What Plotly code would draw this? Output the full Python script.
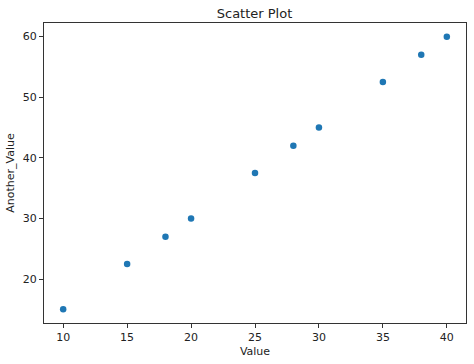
import plotly.graph_objects as go

value = [10, 15, 18, 20, 25, 28, 30, 35, 38, 40]
another_value = [15, 22.5, 27, 30, 37.5, 42, 45, 52.5, 57, 60]
x_ticks = [10, 15, 20, 25, 30, 35, 40]
y_ticks = [20, 30, 40, 50, 60]

fig = go.Figure(go.Scatter(
    x=value, y=another_value, mode="markers",
    marker=dict(color="#1f77b4", size=6.5, line=dict(width=0)),
))

axis_common = dict(
    showgrid=False, zeroline=False, showline=True, linecolor="#333333", linewidth=1,
    mirror=True, ticks="outside", ticklen=4, tickwidth=1, tickcolor="#333333",
    tickfont=dict(family="DejaVu Sans", size=11, color="#222222"),
)

fig.update_layout(
    width=474, height=364,
    margin=dict(l=44, r=8, t=23, b=41),
    paper_bgcolor="white", plot_bgcolor="white",
    title=dict(text="Scatter Plot", x=0.537, xanchor="center", y=0.963, yanchor="middle",
               font=dict(family="DejaVu Sans", size=13, color="#222222")),
    xaxis=dict(range=[8.5, 41.5], tickvals=x_ticks,
               title=dict(text="Value", standoff=4,
                          font=dict(family="DejaVu Sans", size=11, color="#222222")),
               **axis_common),
    yaxis=dict(range=[12.75, 62.25], tickvals=y_ticks,
               title=dict(text="Another_Value", standoff=5,
                          font=dict(family="DejaVu Sans", size=11, color="#222222")),
               **axis_common),
    showlegend=False,
)

fig.write_html("out.html")
